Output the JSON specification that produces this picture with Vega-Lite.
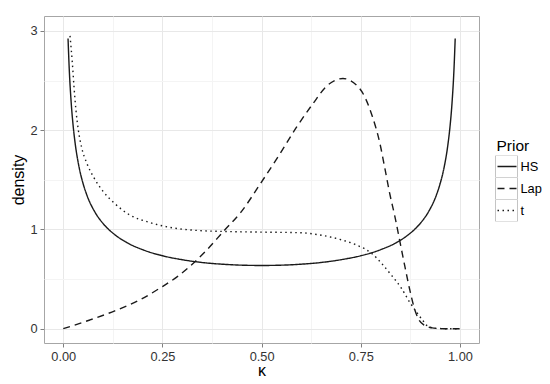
{
  "$schema": "https://vega.github.io/schema/vega-lite/v6.json",
  "width": 435,
  "height": 327,
  "autosize": {"type": "none"},
  "padding": {"left": 44, "top": 16, "right": 71, "bottom": 41},
  "background": "white",
  "config": {
    "font": "Liberation Sans",
    "view": {"stroke": "#a6a6a6", "strokeWidth": 1},
    "axis": {
      "domain": false,
      "tickColor": "#808080",
      "tickSize": 4,
      "labelColor": "#333333",
      "labelFontSize": 12.8,
      "labelPadding": 3,
      "titleFontSize": 16,
      "titleFontWeight": "normal",
      "titleColor": "#000000"
    }
  },
  "datasets": {
    "curves": [
      {"k": 0.012, "d": 2.923, "Prior": "HS"},
      {"k": 0.015, "d": 2.619, "Prior": "HS"},
      {"k": 0.02, "d": 2.274, "Prior": "HS"},
      {"k": 0.025, "d": 2.039, "Prior": "HS"},
      {"k": 0.03, "d": 1.866, "Prior": "HS"},
      {"k": 0.04, "d": 1.624, "Prior": "HS"},
      {"k": 0.05, "d": 1.461, "Prior": "HS"},
      {"k": 0.06, "d": 1.340, "Prior": "HS"},
      {"k": 0.08, "d": 1.173, "Prior": "HS"},
      {"k": 0.1, "d": 1.061, "Prior": "HS"},
      {"k": 0.13, "d": 0.947, "Prior": "HS"},
      {"k": 0.16, "d": 0.868, "Prior": "HS"},
      {"k": 0.2, "d": 0.796, "Prior": "HS"},
      {"k": 0.25, "d": 0.735, "Prior": "HS"},
      {"k": 0.3, "d": 0.695, "Prior": "HS"},
      {"k": 0.35, "d": 0.667, "Prior": "HS"},
      {"k": 0.4, "d": 0.650, "Prior": "HS"},
      {"k": 0.45, "d": 0.640, "Prior": "HS"},
      {"k": 0.5, "d": 0.637, "Prior": "HS"},
      {"k": 0.55, "d": 0.640, "Prior": "HS"},
      {"k": 0.6, "d": 0.650, "Prior": "HS"},
      {"k": 0.65, "d": 0.667, "Prior": "HS"},
      {"k": 0.7, "d": 0.695, "Prior": "HS"},
      {"k": 0.75, "d": 0.735, "Prior": "HS"},
      {"k": 0.8, "d": 0.796, "Prior": "HS"},
      {"k": 0.84, "d": 0.868, "Prior": "HS"},
      {"k": 0.87, "d": 0.947, "Prior": "HS"},
      {"k": 0.9, "d": 1.061, "Prior": "HS"},
      {"k": 0.92, "d": 1.173, "Prior": "HS"},
      {"k": 0.94, "d": 1.340, "Prior": "HS"},
      {"k": 0.95, "d": 1.461, "Prior": "HS"},
      {"k": 0.96, "d": 1.624, "Prior": "HS"},
      {"k": 0.97, "d": 1.866, "Prior": "HS"},
      {"k": 0.975, "d": 2.039, "Prior": "HS"},
      {"k": 0.98, "d": 2.274, "Prior": "HS"},
      {"k": 0.985, "d": 2.619, "Prior": "HS"},
      {"k": 0.988, "d": 2.923, "Prior": "HS"},

      {"k": 0.0, "d": 0.0, "Prior": "Lap"},
      {"k": 0.067, "d": 0.088, "Prior": "Lap"},
      {"k": 0.13, "d": 0.18, "Prior": "Lap"},
      {"k": 0.193, "d": 0.29, "Prior": "Lap"},
      {"k": 0.244, "d": 0.41, "Prior": "Lap"},
      {"k": 0.286, "d": 0.52, "Prior": "Lap"},
      {"k": 0.332, "d": 0.675, "Prior": "Lap"},
      {"k": 0.361, "d": 0.79, "Prior": "Lap"},
      {"k": 0.403, "d": 0.977, "Prior": "Lap"},
      {"k": 0.449, "d": 1.18, "Prior": "Lap"},
      {"k": 0.5, "d": 1.48, "Prior": "Lap"},
      {"k": 0.546, "d": 1.76, "Prior": "Lap"},
      {"k": 0.588, "d": 2.03, "Prior": "Lap"},
      {"k": 0.63, "d": 2.27, "Prior": "Lap"},
      {"k": 0.663, "d": 2.44, "Prior": "Lap"},
      {"k": 0.705, "d": 2.52, "Prior": "Lap"},
      {"k": 0.747, "d": 2.42, "Prior": "Lap"},
      {"k": 0.779, "d": 2.14, "Prior": "Lap"},
      {"k": 0.798, "d": 1.87, "Prior": "Lap"},
      {"k": 0.81, "d": 1.63, "Prior": "Lap"},
      {"k": 0.823, "d": 1.36, "Prior": "Lap"},
      {"k": 0.836, "d": 1.13, "Prior": "Lap"},
      {"k": 0.848, "d": 0.89, "Prior": "Lap"},
      {"k": 0.861, "d": 0.63, "Prior": "Lap"},
      {"k": 0.873, "d": 0.4, "Prior": "Lap"},
      {"k": 0.884, "d": 0.22, "Prior": "Lap"},
      {"k": 0.895, "d": 0.1, "Prior": "Lap"},
      {"k": 0.91, "d": 0.035, "Prior": "Lap"},
      {"k": 0.93, "d": 0.008, "Prior": "Lap"},
      {"k": 0.96, "d": 0.0, "Prior": "Lap"},
      {"k": 1.0, "d": 0.0, "Prior": "Lap"},

      {"k": 0.017, "d": 2.95, "Prior": "t"},
      {"k": 0.023, "d": 2.67, "Prior": "t"},
      {"k": 0.027, "d": 2.44, "Prior": "t"},
      {"k": 0.032, "d": 2.2, "Prior": "t"},
      {"k": 0.038, "d": 2.0, "Prior": "t"},
      {"k": 0.046, "d": 1.83, "Prior": "t"},
      {"k": 0.059, "d": 1.67, "Prior": "t"},
      {"k": 0.076, "d": 1.53, "Prior": "t"},
      {"k": 0.101, "d": 1.38, "Prior": "t"},
      {"k": 0.13, "d": 1.26, "Prior": "t"},
      {"k": 0.168, "d": 1.145, "Prior": "t"},
      {"k": 0.218, "d": 1.07, "Prior": "t"},
      {"k": 0.277, "d": 1.015, "Prior": "t"},
      {"k": 0.336, "d": 0.99, "Prior": "t"},
      {"k": 0.4, "d": 0.98, "Prior": "t"},
      {"k": 0.5, "d": 0.973, "Prior": "t"},
      {"k": 0.596, "d": 0.967, "Prior": "t"},
      {"k": 0.647, "d": 0.944, "Prior": "t"},
      {"k": 0.697, "d": 0.9, "Prior": "t"},
      {"k": 0.739, "d": 0.843, "Prior": "t"},
      {"k": 0.777, "d": 0.76, "Prior": "t"},
      {"k": 0.802, "d": 0.66, "Prior": "t"},
      {"k": 0.827, "d": 0.54, "Prior": "t"},
      {"k": 0.852, "d": 0.41, "Prior": "t"},
      {"k": 0.873, "d": 0.27, "Prior": "t"},
      {"k": 0.89, "d": 0.17, "Prior": "t"},
      {"k": 0.907, "d": 0.08, "Prior": "t"},
      {"k": 0.919, "d": 0.025, "Prior": "t"},
      {"k": 0.94, "d": 0.003, "Prior": "t"},
      {"k": 0.97, "d": 0.0, "Prior": "t"},
      {"k": 1.0, "d": 0.0, "Prior": "t"}
    ],
    "keys": [{"Key": "HS"}, {"Key": "Lap"}, {"Key": "t"}]
  },
  "layer": [
    {
      "data": {"name": "keys"},
      "mark": {"type": "point", "opacity": 0, "shape": "square"},
      "encoding": {
        "fill": {
          "field": "Key",
          "type": "nominal",
          "scale": {"range": ["transparent", "transparent", "transparent"]},
          "legend": {
            "title": "Prior",
            "orient": "none",
            "legendX": 451,
            "legendY": 123,
            "symbolType": "square",
            "symbolSize": 484,
            "symbolOpacity": 1,
            "symbolFillColor": "transparent",
            "symbolStrokeColor": "#c4c4c4",
            "symbolStrokeWidth": 1,
            "clipHeight": 22,
            "rowPadding": 0,
            "titleFontSize": 15.5,
            "titleFontWeight": "normal",
            "titleColor": "#000000",
            "titleOpacity": 0,
            "titlePadding": 1,
            "labelFontSize": 12.8,
            "labelColor": "#000000",
            "labelOpacity": 0,
            "labelOffset": 2
          }
        }
      }
    },
    {
      "data": {"name": "curves"},
      "mark": {"type": "line", "color": "#1a1a1a", "strokeWidth": 1.4, "interpolate": "monotone"},
      "encoding": {
        "x": {
          "field": "k",
          "type": "quantitative",
          "title": "κ",
          "scale": {"domain": [-0.0486, 1.048], "nice": false, "zero": false},
          "axis": {
            "values": [0, 0.125, 0.25, 0.375, 0.5, 0.625, 0.75, 0.875, 1],
            "labelExpr": "datum.value % 0.25 === 0 ? format(datum.value, '.2f') : ''",
            "gridColor": {"condition": {"test": "datum.value % 0.25 === 0", "value": "#e8e8e8"}, "value": "#f4f4f4"},
            "tickOpacity": {"condition": {"test": "datum.value % 0.25 === 0", "value": 1}, "value": 0},
            "titlePadding": 0
          }
        },
        "y": {
          "field": "d",
          "type": "quantitative",
          "title": "density",
          "scale": {"domain": [-0.144, 3.15], "nice": false, "zero": false},
          "axis": {
            "values": [0, 0.5, 1, 1.5, 2, 2.5, 3],
            "labelExpr": "datum.value % 1 === 0 ? format(datum.value, 'd') : ''",
            "gridColor": {"condition": {"test": "datum.value % 1 === 0", "value": "#e8e8e8"}, "value": "#f4f4f4"},
            "tickOpacity": {"condition": {"test": "datum.value % 1 === 0", "value": 1}, "value": 0},
            "titlePadding": 3
          }
        },
        "strokeDash": {
          "field": "Prior",
          "type": "nominal",
          "scale": {"domain": ["HS", "Lap", "t"], "range": [[1, 0], [7, 5], [1.5, 3.5]]},
          "legend": {
            "title": "Prior",
            "orient": "none",
            "legendX": 452.5,
            "legendY": 123,
            "symbolType": "stroke",
            "symbolSize": 361,
            "symbolStrokeWidth": 1.4,
            "symbolStrokeColor": "#1a1a1a",
            "clipHeight": 22,
            "rowPadding": 0,
            "titleFontSize": 15.5,
            "titleFontWeight": "normal",
            "titleColor": "#000000",
            "titlePadding": 1,
            "labelFontSize": 12.8,
            "labelColor": "#000000",
            "labelOffset": 3
          }
        }
      }
    }
  ]
}
